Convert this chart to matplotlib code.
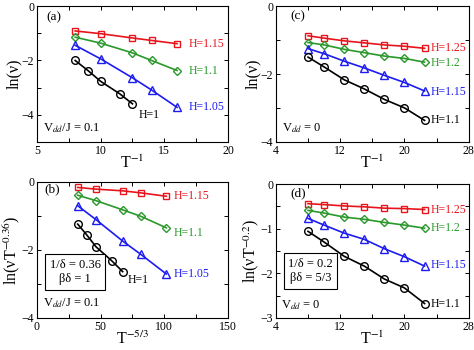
import matplotlib
matplotlib.use("Agg")
import matplotlib.pyplot as plt
from matplotlib.ticker import MultipleLocator, FixedLocator

plt.rcParams['font.family'] = ['Liberation Serif', 'DejaVu Serif']
plt.rcParams['mathtext.fontset'] = 'stix'

RED = '#e8141c'
GREEN = '#2a982a'
BLUE = '#1c1cf0'
BLACK = 'black'

# panel (a): V_dd/J = 0.1, ln(nu) vs 1/T
a_x = [8, 10, 12.5, 14, 16]
a_x_h1 = [8, 9, 10, 11.5, 12.5]
a_h115 = [-0.91, -1.01, -1.17, -1.26, -1.38]
a_h110 = [-1.14, -1.36, -1.72, -2.00, -2.37]
a_h105 = [-1.44, -1.94, -2.64, -3.09, -3.73]
a_h100 = [-2.00, -2.37, -2.77, -3.23, -3.60]

# panel (b): same data, x = T^-5/3
b_x = [32.0, 46.4, 67.3, 81.5, 101.6]
b_x_h1 = [32.0, 38.9, 46.4, 58.7, 67.3]
b_h115 = [-0.16, -0.21, -0.26, -0.32, -0.42]
b_h110 = [-0.39, -0.55, -0.82, -1.01, -1.35]
b_h105 = [-0.70, -1.11, -1.74, -2.13, -2.71]
b_h100 = [-1.24, -1.55, -1.91, -2.32, -2.64]

# panels (c), (d): V_dd = 0
cd_x = [8, 10, 12.5, 15, 17.5, 20, 22.5]
c_h125 = [-0.87, -0.94, -1.02, -1.08, -1.14, -1.18, -1.24]
c_h120 = [-1.07, -1.14, -1.27, -1.37, -1.47, -1.54, -1.65]
c_h115 = [-1.25, -1.40, -1.62, -1.82, -2.04, -2.25, -2.50]
c_h110 = [-1.50, -1.79, -2.17, -2.44, -2.75, -3.00, -3.37]

d_h125 = [-0.44, -0.46, -0.49, -0.51, -0.54, -0.55, -0.57]
d_h120 = [-0.59, -0.65, -0.74, -0.79, -0.86, -0.92, -0.99]
d_h115 = [-0.77, -0.92, -1.10, -1.24, -1.45, -1.63, -1.84]
d_h110 = [-1.06, -1.30, -1.62, -1.84, -2.13, -2.33, -2.68]

cd_xticks = [4, 12, 20, 28]
cd_xminor = [8, 16, 24]

fig = plt.figure(figsize=(4.74, 3.5), dpi=100)
ax_a = fig.add_axes([0.078, 0.595, 0.403, 0.387])
ax_c = fig.add_axes([0.582, 0.595, 0.407, 0.387])
ax_b = fig.add_axes([0.078, 0.092, 0.403, 0.388])
ax_d = fig.add_axes([0.582, 0.092, 0.407, 0.382])

MS = {'s': 4.8, 'D': 4.5, '^': 5.2, 'o': 5.5}


def series(ax, x, y, color, marker, label, lx, ly):
    ax.plot(x, y, color=color, lw=1.2, marker=marker, ms=MS[marker],
            mfc='none', mec=color, mew=1.0)
    ax.text(lx, ly, label, color=color, fontsize=8.5, va='center', ha='left')


def style(ax, xlim, ylim, xmaj, xmin, ymaj, ymin, xlabel, ylabel):
    ax.set_xlim(*xlim)
    ax.set_ylim(*ylim)
    if isinstance(xmaj, list):
        ax.xaxis.set_major_locator(FixedLocator(xmaj))
        ax.xaxis.set_minor_locator(FixedLocator(xmin))
    else:
        ax.xaxis.set_major_locator(MultipleLocator(xmaj))
        ax.xaxis.set_minor_locator(MultipleLocator(xmin))
    ax.yaxis.set_major_locator(MultipleLocator(ymaj))
    ax.yaxis.set_minor_locator(MultipleLocator(ymin))
    ax.tick_params(which='both', direction='in', top=True, right=True, labelsize=8.5, pad=2)
    ax.tick_params(which='both', length=3, width=0.7)
    for s in ax.spines.values():
        s.set_linewidth(0.8)
    ax.set_xlabel(xlabel, fontsize=11.5, labelpad=-1)
    ax.set_ylabel(ylabel, fontsize=11.5, labelpad=0)


# (a)
series(ax_a, a_x, a_h115, RED, 's', 'H=1.15', 16.9, -1.38)
series(ax_a, a_x, a_h110, GREEN, 'D', 'H=1.1', 16.9, -2.37)
series(ax_a, a_x, a_h105, BLUE, '^', 'H=1.05', 16.9, -3.73)
series(ax_a, a_x_h1, a_h100, BLACK, 'o', 'H=1', 13.0, -4.0)
style(ax_a, (5, 20), (-5, 0), 5, 2.5, 2, 1, 'T$^{-1}$', 'ln(ν)')
ax_a.text(5.7, -0.4, '(a)', fontsize=9.5, va='center')
ax_a.text(5.5, -4.5, 'V$_{dd}$/J = 0.1', fontsize=9, va='center')

# (b)
series(ax_b, b_x, b_h115, RED, 's', 'H=1.15', 107, -0.42)
series(ax_b, b_x, b_h110, GREEN, 'D', 'H=1.1', 107, -1.5)
series(ax_b, b_x, b_h105, BLUE, '^', 'H=1.05', 107, -2.71)
series(ax_b, b_x_h1, b_h100, BLACK, 'o', 'H=1', 71, -2.9)
style(ax_b, (0, 150), (-4, 0), 50, 25, 2, 1, 'T$^{-5/3}$', 'ln(νT$^{-0.36}$)')
ax_b.text(6, -0.2, '(b)', fontsize=9.5, va='center')
ax_b.text(30, -2.65, '1/δ = 0.36\nβδ = 1', fontsize=9, va='center', ha='center',
          linespacing=1.3,
          bbox=dict(boxstyle='square,pad=0.35', fc='white', ec='black', lw=0.8))
ax_b.text(5, -3.58, 'V$_{dd}$/J = 0.1', fontsize=9, va='center')

# (c)
series(ax_c, cd_x, c_h125, RED, 's', 'H=1.25', 23.3, -1.24)
series(ax_c, cd_x, c_h120, GREEN, 'D', 'H=1.2', 23.3, -1.67)
series(ax_c, cd_x, c_h115, BLUE, '^', 'H=1.15', 23.3, -2.52)
series(ax_c, cd_x, c_h110, BLACK, 'o', 'H=1.1', 23.3, -3.37)
style(ax_c, (4, 28), (-4, 0), cd_xticks, cd_xminor, 2, 1, 'T$^{-1}$', 'ln(ν)')
ax_c.text(5.8, -0.3, '(c)', fontsize=9.5, va='center')
ax_c.text(4.8, -3.6, 'V$_{dd}$ = 0', fontsize=9, va='center')

# (d)
series(ax_d, cd_x, d_h125, RED, 's', 'H=1.25', 23.3, -0.57)
series(ax_d, cd_x, d_h120, GREEN, 'D', 'H=1.2', 23.3, -0.99)
series(ax_d, cd_x, d_h115, BLUE, '^', 'H=1.15', 23.3, -1.82)
series(ax_d, cd_x, d_h110, BLACK, 'o', 'H=1.1', 23.3, -2.68)
style(ax_d, (4, 28), (-3, 0), cd_xticks, cd_xminor, 1, 0.5, 'T$^{-1}$', 'ln(νT$^{-0.2}$)')
ax_d.text(5.8, -0.2, '(d)', fontsize=9.5, va='center')
ax_d.text(8.3, -1.95, '1/δ = 0.2\nβδ = 5/3', fontsize=9, va='center', ha='center',
          linespacing=1.3,
          bbox=dict(boxstyle='square,pad=0.35', fc='white', ec='black', lw=0.8))
ax_d.text(4.6, -2.72, 'V$_{dd}$ = 0', fontsize=9, va='center')

fig.savefig('out.png', dpi=100)
